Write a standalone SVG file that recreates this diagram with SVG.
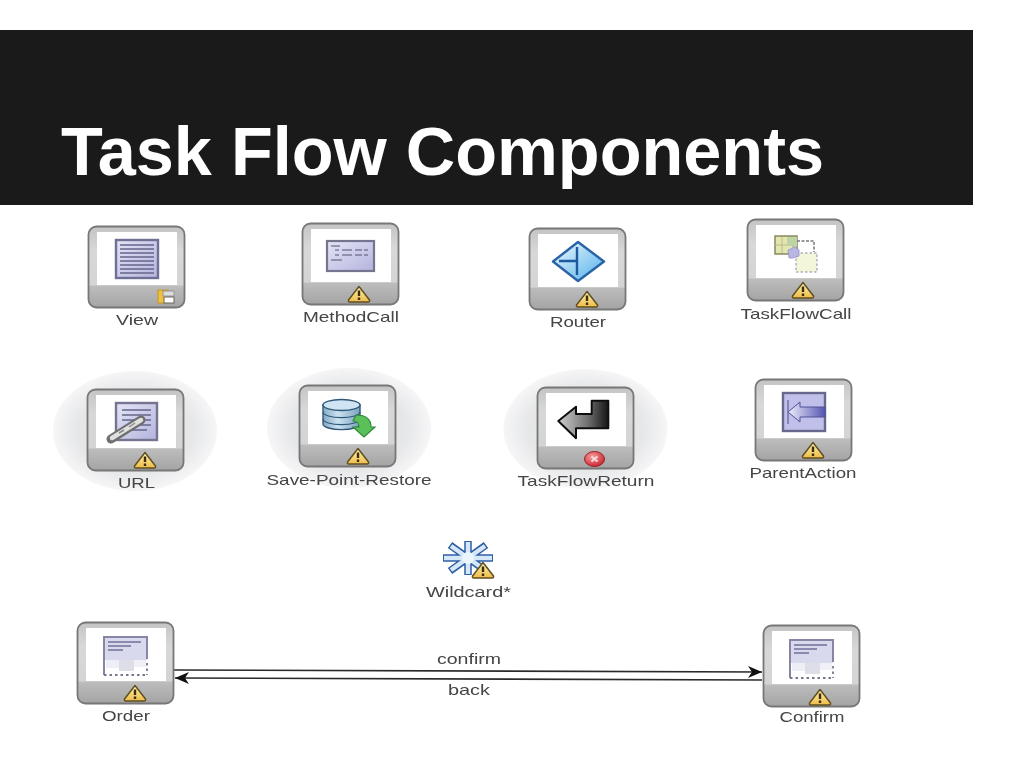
<svg xmlns="http://www.w3.org/2000/svg" xmlns:xlink="http://www.w3.org/1999/xlink" width="1024" height="768" viewBox="0 0 1024 768">
<style>
.lbl{font-family:"Liberation Sans",Arial,sans-serif;font-size:15px;fill:#444;text-anchor:middle;filter:url(#softText)}
.title{font-family:"Liberation Sans",Arial,sans-serif;font-size:68.500px;font-weight:bold;fill:#fff}
.conn{fill:none;stroke:#2a2a2a;stroke-width:1.6}
.halo{fill:url(#haloG)}
.soft{filter:url(#soft)}
</style>
<defs>
<filter id="soft" x="-10%" y="-10%" width="120%" height="120%"><feGaussianBlur stdDeviation="0.6"/></filter>
<filter id="softText" x="-10%" y="-20%" width="120%" height="140%"><feGaussianBlur stdDeviation="0.3"/></filter>
<linearGradient id="boxG" x1="0" y1="0" x2="0" y2="1">
<stop offset="0" stop-color="#c4c4c4"/><stop offset="0.3" stop-color="#d8d8d8"/><stop offset="0.72" stop-color="#d4d4d4"/><stop offset="0.74" stop-color="#bcbcbc"/><stop offset="1" stop-color="#a4a4a4"/>
</linearGradient>
<radialGradient id="haloG" cx="0.5" cy="0.5" r="0.5">
<stop offset="0" stop-color="#dcdee0"/><stop offset="0.7" stop-color="#e6e7e9"/><stop offset="1" stop-color="#f6f6f7"/>
</radialGradient>
<linearGradient id="docG" x1="0" y1="0" x2="1" y2="1"><stop offset="0" stop-color="#e4e4f6"/><stop offset="1" stop-color="#b4b4de"/></linearGradient>
<linearGradient id="warnG" x1="0" y1="0" x2="0" y2="1"><stop offset="0" stop-color="#fff3b0"/><stop offset="1" stop-color="#efbb48"/></linearGradient>
<linearGradient id="diaG" x1="0" y1="0" x2="1" y2="1"><stop offset="0" stop-color="#f2fafe"/><stop offset="1" stop-color="#4fb0ea"/></linearGradient>
<linearGradient id="dbG" x1="0" y1="0" x2="1" y2="0"><stop offset="0" stop-color="#86aac6"/><stop offset="0.4" stop-color="#cce2f0"/><stop offset="1" stop-color="#7ba2c0"/></linearGradient>
<linearGradient id="retG" x1="0" y1="0" x2="1" y2="0"><stop offset="0" stop-color="#cfcfcf"/><stop offset="0.6" stop-color="#6e6e6e"/><stop offset="1" stop-color="#141414"/></linearGradient>
<linearGradient id="parG" x1="0" y1="0" x2="1" y2="0"><stop offset="0" stop-color="#eeeefa"/><stop offset="1" stop-color="#5555b4"/></linearGradient>
<radialGradient id="redG" cx="0.4" cy="0.35" r="0.7"><stop offset="0" stop-color="#f7a0a0"/><stop offset="1" stop-color="#c8202c"/></radialGradient>
<g id="box">
<rect x="0.5" y="0.5" width="96" height="81" rx="8" fill="url(#boxG)" stroke="#777" stroke-width="1.800"/>
<rect x="9" y="6" width="80" height="53" fill="#fff"/>
</g>
<g id="warn">
<path d="M11,0.500 L21.500,14 Q22,16 20,16 L2,16 Q0,16 0.500,14 Z" fill="url(#warnG)" stroke="#5f4f22" stroke-width="1.500" stroke-linejoin="round"/>
<path d="M11,4.500 V10 M11,11.500 V14" stroke="#3a2e10" stroke-width="2.400" fill="none"/>
</g>
<g id="flowDoc">
<rect x="1" y="0" width="43" height="23" fill="#d9d9ee"/>
<path d="M1,38 V0 H44 V22" fill="none" stroke="#8686a4" stroke-width="2"/>
<path d="M5,5 H38 M5,9 H28 M5,13 H20" stroke="#70709a" stroke-width="1.600"/>
<rect x="3" y="23" width="13" height="8" fill="#eeeef6"/>
<rect x="16" y="23" width="15" height="11" fill="#dedee8"/>
<rect x="31" y="23" width="12" height="7" fill="#f0f0f6"/>
<path d="M1,38 H44 M44,26 V38" stroke="#77778c" stroke-width="1.800" stroke-dasharray="2.500 3"/>
</g>
<marker id="barb" markerUnits="userSpaceOnUse" markerWidth="16" markerHeight="14" refX="14" refY="7" orient="auto">
<path d="M0,1 L14,7 L0,13 L4,7 Z" fill="#111"/>
</marker>
</defs>

<rect width="1024" height="768" fill="#fff"/>
<g id="title-bar">
<rect x="0" y="30" width="973" height="175" fill="#1a1a1a"/>
<text class="title" x="61" y="175" textLength="763" lengthAdjust="spacingAndGlyphs">Task Flow Components</text>
</g>

<g id="connectors">
<path class="conn" d="M174,670 L762,672" marker-end="url(#barb)"/>
<path class="conn" d="M762,680 L175,678" marker-end="url(#barb)"/>
<text class="lbl" x="469" y="664" textLength="64" lengthAdjust="spacingAndGlyphs">confirm</text>
<text class="lbl" x="469" y="695" textLength="42" lengthAdjust="spacingAndGlyphs">back</text>
</g>

<g id="node-view">
<g transform="translate(88,226)" class="soft">
<use xlink:href="#box" href="#box"/>
<rect x="28" y="14" width="42" height="38" fill="url(#docG)" stroke="#6f6f95" stroke-width="2.400"/>
<path d="M32,19 H66 M32,23 H66 M32,27 H66 M32,31 H66 M32,35 H66 M32,39 H66 M32,43 H66 M32,47 H66" stroke="#66668c" stroke-width="1.300"/>
<rect x="70" y="64" width="10" height="13" fill="#f0c040" stroke="#c89820"/>
<rect x="76" y="71" width="10" height="6" fill="#fff" stroke="#666"/>
<path d="M75,64 V70 H86 V65 H75" fill="#ddd" stroke="#888" stroke-width="0.800"/>
</g>
<text class="lbl" x="137" y="325" textLength="42" lengthAdjust="spacingAndGlyphs">View</text>
</g>

<g id="node-methodcall">
<g transform="translate(302,223)" class="soft">
<use xlink:href="#box" href="#box"/>
<rect x="25" y="18" width="47" height="30" fill="url(#docG)" stroke="#74748f" stroke-width="2.200"/>
<path d="M29,23 H38 M33,27 H37 M40,27 H50 M53,27 H60 M62,27 H66 M33,32 H37 M40,32 H50 M53,32 H60 M62,32 H66 M29,37 H40" stroke="#55556e" stroke-width="1.200"/>
<use xlink:href="#warn" href="#warn" x="46" y="63"/>
</g>
<text class="lbl" x="351" y="322" textLength="96" lengthAdjust="spacingAndGlyphs">MethodCall</text>
</g>

<g id="node-router">
<g transform="translate(529,228)" class="soft">
<use xlink:href="#box" href="#box"/>
<path d="M49,14 L75,33.500 L49,53 L24,33.500 Z" fill="url(#diaG)" stroke="#2a64a8" stroke-width="2.400" stroke-linejoin="round"/>
<path d="M30,33 H48 M48,19 V47" fill="none" stroke="#1d5aa0" stroke-width="2.400"/>
<use xlink:href="#warn" href="#warn" x="47" y="63"/>
</g>
<text class="lbl" x="578" y="327" textLength="56" lengthAdjust="spacingAndGlyphs">Router</text>
</g>

<g id="node-taskflowcall">
<g transform="translate(747,219)" class="soft">
<use xlink:href="#box" href="#box"/>
<rect x="49" y="34" width="21" height="19" fill="#f4f6dc" stroke="#8a8aa8" stroke-dasharray="2.500 2"/>
<path d="M50,22 H67 V33" fill="none" stroke="#333" stroke-width="1" stroke-dasharray="3 1.500"/>
<rect x="28" y="17" width="22" height="18" fill="#e3e6b0" stroke="#7e8258" stroke-width="1.400"/>
<path d="M35,18 V34 M28,26 H50" stroke="#b8bc84" stroke-width="1"/>
<rect x="40" y="18" width="10" height="9" fill="#bfd4a4"/>
<path d="M41,31 L46,29 V27 L52,31 V37 L46,39 H42 Z" fill="#b9b5e4" stroke="#9692c6" stroke-width="0.800"/>
<use xlink:href="#warn" href="#warn" x="45" y="63"/>
</g>
<text class="lbl" x="796" y="319" textLength="111" lengthAdjust="spacingAndGlyphs">TaskFlowCall</text>
</g>

<g id="node-url">
<ellipse class="halo" cx="135" cy="431" rx="82" ry="60"/>
<g transform="translate(87,389)" class="soft">
<use xlink:href="#box" href="#box"/>
<rect x="29" y="14" width="41" height="37" fill="url(#docG)" stroke="#74748f" stroke-width="2.400"/>
<path d="M35,21 H64 M35,26 H64 M35,31 H64 M48,36 H64 M42,41 H60" stroke="#66668c" stroke-width="1.300"/>
<path d="M24,50 L54,31" stroke="#6e6e6e" stroke-width="9" stroke-linecap="round"/>
<path d="M25,49 L54,31" stroke="#e0e0e0" stroke-width="4.500" stroke-linecap="round"/>
<path d="M32,44 L37,41 M42,38 L48,34" stroke="#888" stroke-width="1.500"/>
<use xlink:href="#warn" href="#warn" x="47" y="63"/>
</g>
<text class="lbl" x="136.500" y="488" textLength="37" lengthAdjust="spacingAndGlyphs">URL</text>
</g>

<g id="node-savepoint">
<ellipse class="halo" cx="349" cy="428" rx="82" ry="60"/>
<g transform="translate(299,385)" class="soft">
<use xlink:href="#box" href="#box"/>
<path d="M24,20 V39 A18,5.500 0 0 0 61,39 V20 Z" fill="url(#dbG)" stroke="#2f5878" stroke-width="1.400"/>
<ellipse cx="42.500" cy="20" rx="18.500" ry="5.500" fill="#cfe4f2" stroke="#2f5878" stroke-width="1.400"/>
<path d="M24,27 A18,5.500 0 0 0 61,27 M24,34 A18,5.500 0 0 0 61,34" fill="none" stroke="#2f5878" stroke-width="1.200"/>
<path d="M57,30 Q72,30 72,42 L76,42 L65,52 L54,42 L60,42 Q60,36 54,36 Z" fill="#5cc05a" stroke="#2f8a3a" stroke-width="1.200"/>
<use xlink:href="#warn" href="#warn" x="48" y="63"/>
</g>
<text class="lbl" x="349" y="485" textLength="165" lengthAdjust="spacingAndGlyphs">Save-Point-Restore</text>
</g>

<g id="node-taskflowreturn">
<ellipse class="halo" cx="585.500" cy="429" rx="82" ry="60"/>
<g transform="translate(537,387)" class="soft">
<use xlink:href="#box" href="#box"/>
<path d="M21.300,34 L39,19.700 V27 H54.700 V13.700 H71.300 V41.300 H39 V51.300 Z" fill="url(#retG)" stroke="#111" stroke-width="2" stroke-linejoin="round"/>
<ellipse cx="57.500" cy="72" rx="10" ry="7.500" fill="url(#redG)" stroke="#9c2028"/>
<path d="M54.500,69.500 L60.500,74.500 M60.500,69.500 L54.500,74.500" stroke="#fbdcdc" stroke-width="1.800"/>
</g>
<text class="lbl" x="586" y="486" textLength="137" lengthAdjust="spacingAndGlyphs">TaskFlowReturn</text>
</g>

<g id="node-parentaction">
<g transform="translate(755,379)" class="soft">
<use xlink:href="#box" href="#box"/>
<rect x="28" y="14" width="42" height="38" fill="#c0c0ea" stroke="#67678c" stroke-width="2.400"/>
<path d="M33,33 L45,23 V28 H70 V38 H45 V43 Z" fill="url(#parG)" stroke="#50509a" stroke-width="1"/>
<path d="M33,21 V45" stroke="#6a6aa0" stroke-width="1.400"/>
<use xlink:href="#warn" href="#warn" x="47" y="63"/>
</g>
<text class="lbl" x="803" y="478" textLength="107" lengthAdjust="spacingAndGlyphs">ParentAction</text>
</g>

<g id="node-wildcard">
<g class="soft">
<path d="M468,541 V575 M443,558 H493 M450,545 L486,571 M486,545 L450,571" stroke="#2e5ea6" stroke-width="7.500" fill="none"/>
<path d="M468,542 V574 M444,558 H492 M451,546 L485,570 M485,546 L451,570" stroke="#d6e8f8" stroke-width="4.500" fill="none"/>
<circle cx="468" cy="558" r="6" fill="#eaf5fd"/>
<use xlink:href="#warn" href="#warn" x="472" y="562"/>
</g>
<text class="lbl" x="468.500" y="597" textLength="85" lengthAdjust="spacingAndGlyphs">Wildcard*</text>
</g>

<g id="node-order">
<g transform="translate(77,622)" class="soft">
<use xlink:href="#box" href="#box"/>
<use xlink:href="#flowDoc" href="#flowDoc" x="26" y="15"/>
<use xlink:href="#warn" href="#warn" x="47" y="63"/>
</g>
<text class="lbl" x="126" y="721" textLength="48" lengthAdjust="spacingAndGlyphs">Order</text>
</g>

<g id="node-confirm">
<g transform="translate(763,625)" class="soft">
<use xlink:href="#box" href="#box"/>
<use xlink:href="#flowDoc" href="#flowDoc" x="26" y="15"/>
<use xlink:href="#warn" href="#warn" x="46" y="64"/>
</g>
<text class="lbl" x="812" y="722" textLength="65" lengthAdjust="spacingAndGlyphs">Confirm</text>
</g>
</svg>
